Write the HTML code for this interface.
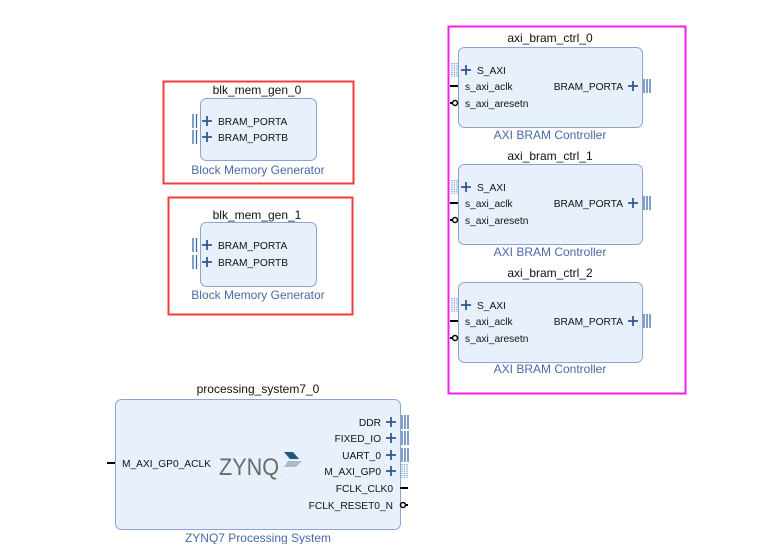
<!DOCTYPE html>
<html><head><meta charset="utf-8"><style>
html,body{margin:0;padding:0;background:#fff;}
svg{display:block;font-family:"Liberation Sans",Arial,sans-serif;}
.t{font-size:12px;fill:#111;text-anchor:middle}
.p{font-size:10.2px;fill:#111}
.s{font-size:12px;fill:#4a6aa8;text-anchor:middle}
.blk{fill:#e8f1fb;stroke:#8aa5cf;stroke-width:1}
.pl{stroke:#2f4f8a;stroke-width:1.7}
.bus{stroke:#3d6aa8;stroke-width:1.3}
.dot{stroke:#6f98cc;stroke-width:1.3;stroke-dasharray:1.2 1}
</style></head><body>
<svg width="768" height="544" viewBox="0 0 768 544" xmlns="http://www.w3.org/2000/svg">
<defs>
<g id="plus"><line class="pl" x1="-5" y1="0" x2="5" y2="0"/><line class="pl" x1="0" y1="-5" x2="0" y2="5"/></g>
<g id="bus2"><line class="bus" x1="0" y1="-7" x2="0" y2="7"/><line class="bus" x1="3.5" y1="-7" x2="3.5" y2="7"/></g>
<g id="bus3"><line class="bus" x1="0" y1="-7" x2="0" y2="7"/><line class="bus" x1="3" y1="-7" x2="3" y2="7"/><line class="bus" x1="6" y1="-7" x2="6" y2="7"/></g>
<g id="dbus"><line class="dot" x1="0" y1="-7" x2="0" y2="7"/><line class="dot" x1="2.5" y1="-7" x2="2.5" y2="7"/><line class="dot" x1="5" y1="-7" x2="5" y2="7"/></g>
</defs>

<rect x="163.5" y="81.5" width="190" height="102" fill="none" stroke="#f03c3c" stroke-width="2"/>
<text class="t" x="257" y="94">blk_mem_gen_0</text>
<rect class="blk" x="200.5" y="98.5" width="116" height="62" rx="6"/>
<use href="#bus2" x="193" y="121"/><use href="#plus" x="207" y="121"/><text class="p" x="218" y="125">BRAM_PORTA</text>
<use href="#bus2" x="193" y="137"/><use href="#plus" x="207" y="137"/><text class="p" x="218" y="141">BRAM_PORTB</text>
<text class="s" x="258" y="174">Block Memory Generator</text>

<rect x="168.5" y="197.5" width="184" height="117" fill="none" stroke="#f03c3c" stroke-width="2"/>
<text class="t" x="257" y="219">blk_mem_gen_1</text>
<rect class="blk" x="200.5" y="222.5" width="116" height="64" rx="6"/>
<use href="#bus2" x="193" y="245"/><use href="#plus" x="207" y="245"/><text class="p" x="218" y="249">BRAM_PORTA</text>
<use href="#bus2" x="193" y="262"/><use href="#plus" x="207" y="262"/><text class="p" x="218" y="266">BRAM_PORTB</text>
<text class="s" x="258" y="299">Block Memory Generator</text>

<rect x="448.5" y="26.5" width="237" height="367" fill="none" stroke="#f020f0" stroke-width="2"/>

<g id="axi">
<rect class="blk" x="458.5" y="47.5" width="184" height="80" rx="6"/>
<use href="#dbus" x="452" y="70"/><use href="#plus" x="466" y="70"/><text class="p" x="477" y="74">S_AXI</text>
<line x1="450" y1="86" x2="458" y2="86" stroke="#000" stroke-width="2"/><text class="p" x="465" y="90">s_axi_aclk</text>
<line x1="450" y1="103" x2="458" y2="103" stroke="#000" stroke-width="2"/><circle cx="455" cy="103" r="2.5" fill="#fff" stroke="#000" stroke-width="1.5"/><text class="p" x="465" y="107">s_axi_aresetn</text>
<text class="p" x="623" y="90" text-anchor="end">BRAM_PORTA</text><use href="#plus" x="633" y="86"/><use href="#bus3" x="644" y="86"/>
</g>
<text class="t" x="550" y="42">axi_bram_ctrl_0</text>
<text class="s" x="550" y="139">AXI BRAM Controller</text>

<use href="#axi" x="0" y="117"/>
<text class="t" x="550" y="160">axi_bram_ctrl_1</text>
<text class="s" x="550" y="256">AXI BRAM Controller</text>

<use href="#axi" x="0" y="235"/>
<text class="t" x="550" y="277">axi_bram_ctrl_2</text>
<text class="s" x="550" y="373">AXI BRAM Controller</text>

<text class="t" x="258" y="393">processing_system7_0</text>
<rect class="blk" x="115.5" y="399.5" width="285" height="130" rx="6"/>
<line x1="107" y1="463" x2="115" y2="463" stroke="#000" stroke-width="2"/>
<text class="p" x="122" y="467">M_AXI_GP0_ACLK</text>
<text x="219" y="475" font-size="24" fill="#6b6b6b" textLength="60" lengthAdjust="spacingAndGlyphs">ZYNQ</text>
<text x="280" y="476" font-size="5" fill="#6b6b6b">.</text>
<polygon points="284,452 293,452 299,459 290,459" fill="#1f5a7a"/>
<polygon points="288,461 302,461 296,467 284,467" fill="#a9bccd"/>

<text class="p" x="381" y="426" text-anchor="end">DDR</text><use href="#plus" x="391" y="422"/><use href="#bus3" x="402" y="422"/>
<text class="p" x="381" y="442" text-anchor="end">FIXED_IO</text><use href="#plus" x="391" y="438"/><use href="#bus3" x="402" y="438"/>
<text class="p" x="381" y="459" text-anchor="end">UART_0</text><use href="#plus" x="391" y="455"/><use href="#bus3" x="402" y="455"/>
<text class="p" x="381" y="475" text-anchor="end">M_AXI_GP0</text><use href="#plus" x="391" y="471"/><use href="#dbus" x="402" y="471"/>
<text class="p" x="393" y="492" text-anchor="end">FCLK_CLK0</text><line x1="400" y1="488" x2="408" y2="488" stroke="#000" stroke-width="2"/>
<text class="p" x="393" y="509" text-anchor="end">FCLK_RESET0_N</text><line x1="400" y1="505" x2="408" y2="505" stroke="#000" stroke-width="2"/><circle cx="403" cy="505" r="2.5" fill="#fff" stroke="#000" stroke-width="1.5"/>
<text class="s" x="258" y="542">ZYNQ7 Processing System</text>
</svg>
</body></html>
